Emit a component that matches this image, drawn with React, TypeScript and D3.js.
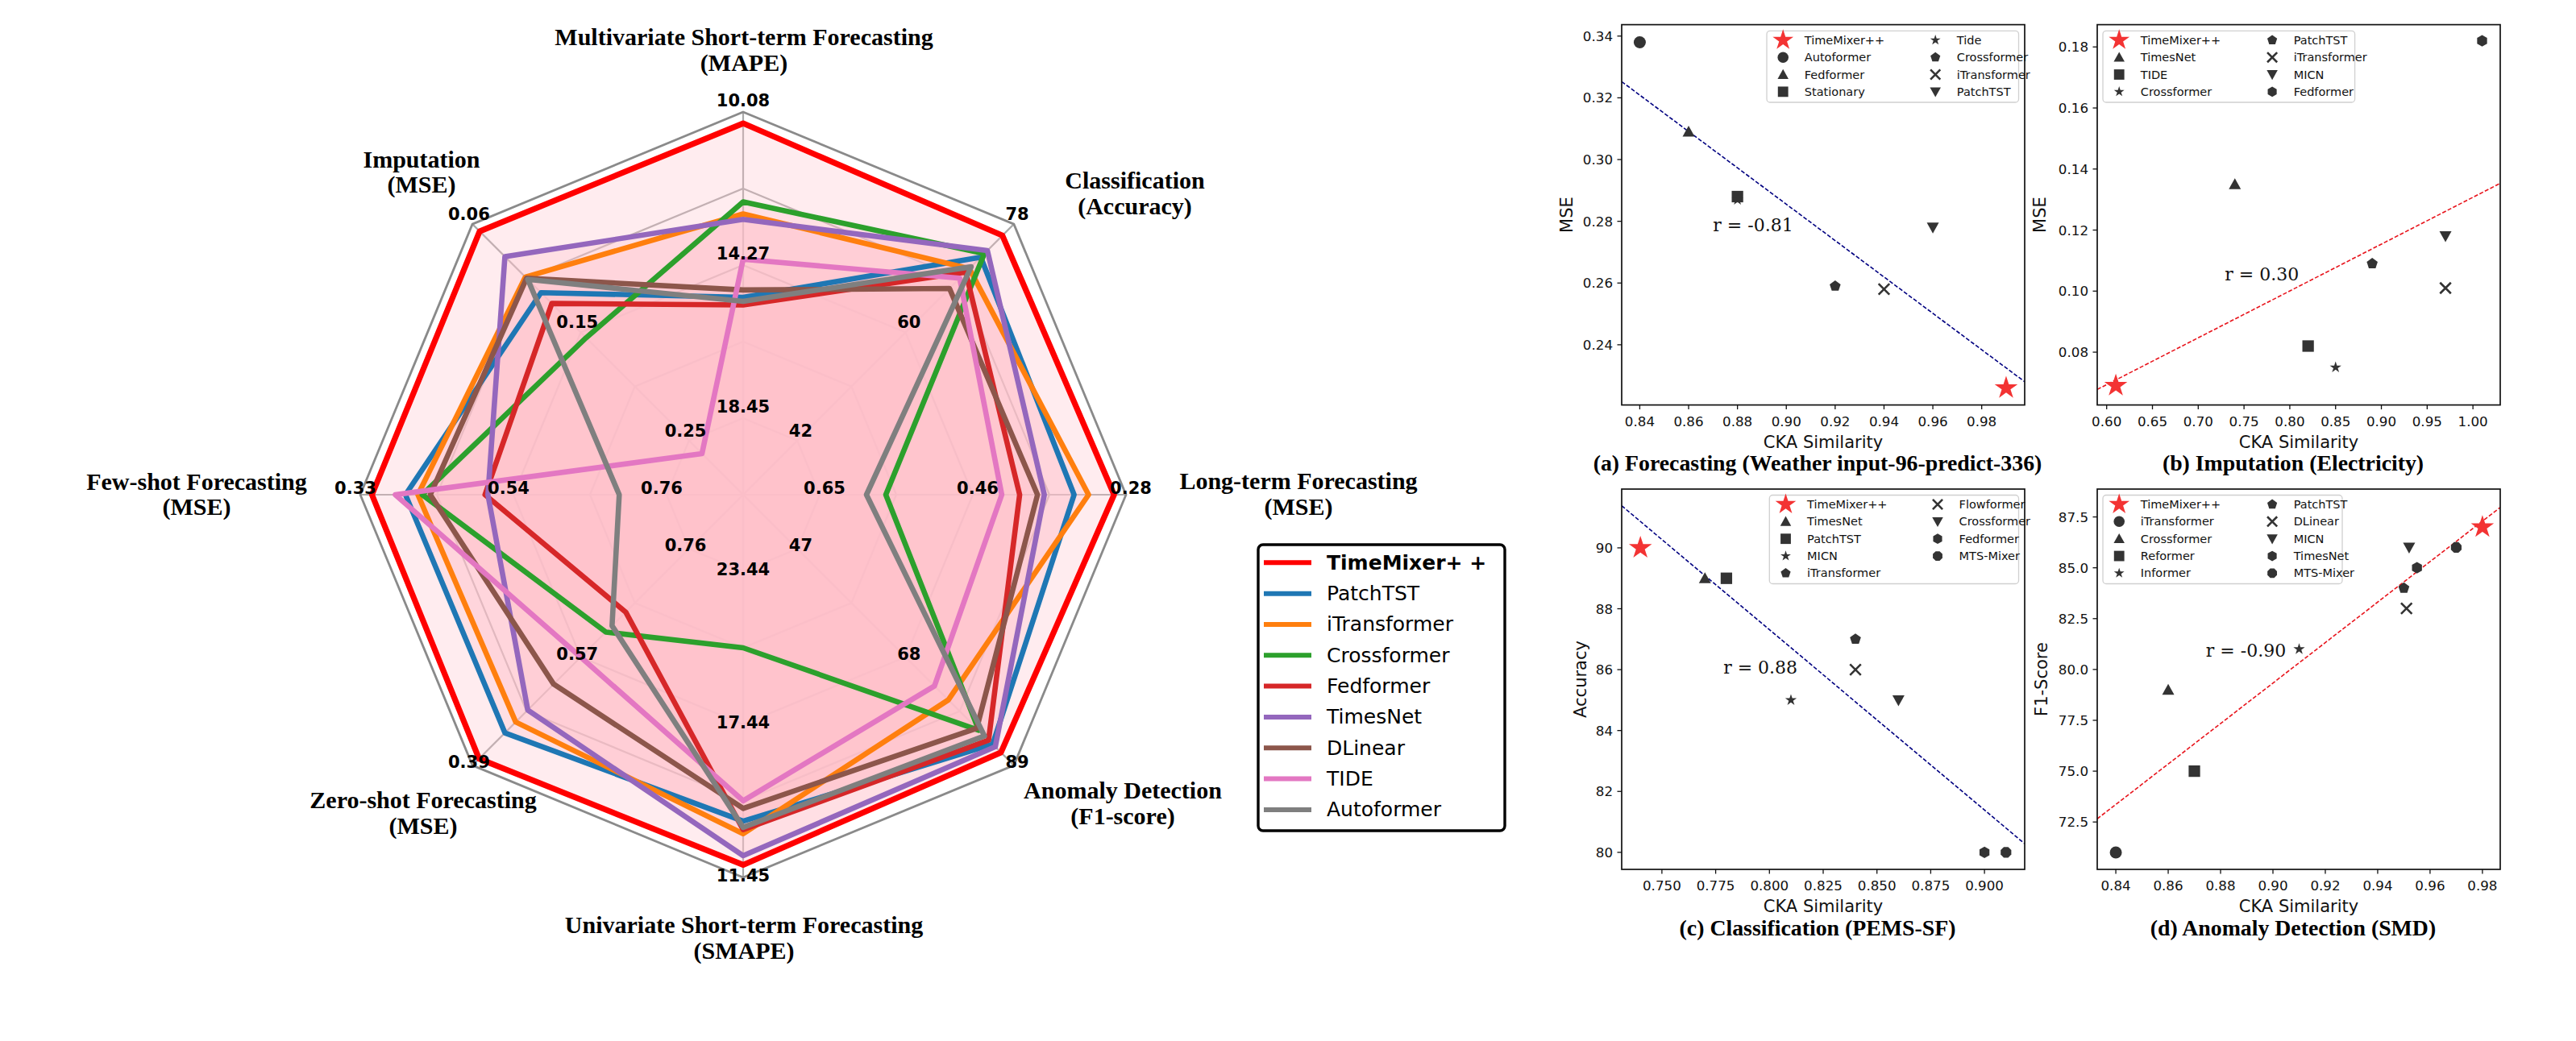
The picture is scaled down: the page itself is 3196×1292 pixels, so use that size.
import * as d3 from "d3";

const W = 3196;
const H = 1292;
const SANS = "'DejaVu Sans', 'Liberation Sans', sans-serif";
const SERIF = "'Liberation Serif', 'Times New Roman', serif";

// ---------------- radar data ----------------
const TASK_TITLES = [
  ["Multivariate Short-term Forecasting", "(MAPE)"],
  ["Classification", "(Accuracy)"],
  ["Long-term Forecasting", "(MSE)"],
  ["Anomaly Detection", "(F1-score)"],
  ["Univariate Short-term Forecasting", "(SMAPE)"],
  ["Zero-shot Forecasting", "(MSE)"],
  ["Few-shot Forecasting", "(MSE)"],
  ["Imputation", "(MSE)"],
];

// tick labels shown at radius 0.2, 0.6 and 1.0 on every task axis
const TICK_LABELS = [
  ["18.45", "14.27", "10.08"],
  ["42", "60", "78"],
  ["0.65", "0.46", "0.28"],
  ["47", "68", "89"],
  ["23.44", "17.44", "11.45"],
  ["0.76", "0.57", "0.39"],
  ["0.76", "0.54", "0.33"],
  ["0.25", "0.15", "0.06"],
];
const TICK_LEVELS = [0.2, 0.6, 1.0];
const GRID_LEVELS = [0.2, 0.4, 0.6, 0.8];

const MODEL_NAMES = [
  "TimeMixer+ +",
  "PatchTST",
  "iTransformer",
  "Crossformer",
  "Fedformer",
  "TimesNet",
  "DLinear",
  "TIDE",
  "Autoformer",
];
const MODEL_COLORS = [
  "#ff0000",
  "#1f77b4",
  "#ff7f0e",
  "#2ca02c",
  "#d62728",
  "#9467bd",
  "#8c564b",
  "#e377c2",
  "#7f7f7f",
];

// scores per task, same order as TASK_TITLES
const timeMixerScores = [10.39, 76.1, 0.294, 86.5, 11.94, 0.401, 0.346, 0.066];
const patchTSTScores = [15.15, 72.5, 0.341, 84.9, 13.65, 0.444, 0.392, 0.117];
const iTransformerScores = [12.87, 70.6, 0.324, 76.3, 13.16, 0.462, 0.409, 0.104];
const crossformerScores = [12.54, 73.1, 0.568, 82.2, 20.44, 0.614, 0.415, 0.155];
const fedformerScores = [15.36, 70.0, 0.405, 84.1, 13.32, 0.649, 0.501, 0.126];
const timesNetScores = [13.02, 73.6, 0.376, 85.4, 12.3, 0.482, 0.505, 0.087];
const dLinearScores = [14.95, 67.3, 0.384, 81.8, 14.15, 0.525, 0.426, 0.105];
const tideScores = [14.11, 69.0, 0.426, 73.6, 14.45, 0.57, 0.378, 0.262];
const autoformerScores = [15.26, 70.9, 0.592, 83.3, 13.41, 0.625, 0.692, 0.106];

const MODEL_SCORES = [
  timeMixerScores,
  patchTSTScores,
  iTransformerScores,
  crossformerScores,
  fedformerScores,
  timesNetScores,
  dLinearScores,
  tideScores,
  autoformerScores,
];

// ---------------- scatter data ----------------
// (a) forecasting
const fcNames = ["TimeMixer++", "Autoformer", "Fedformer", "Stationary", "Tide", "Crossformer", "iTransformer", "PatchTST"];
const fcMarkers = ["R", "o", "^", "s", "*", "p", "x", "v"];
const fcCka = [0.99, 0.84, 0.86, 0.88, 0.88, 0.92, 0.94, 0.96];
const fcMse = [0.226, 0.338, 0.309, 0.288, 0.287, 0.259, 0.258, 0.278];

// (b) imputation
const impNames = ["TimeMixer++", "TimesNet", "TIDE", "Crossformer", "PatchTST", "iTransformer", "MICN", "Fedformer"];
const impMarkers = ["R", "^", "s", "*", "p", "x", "v", "h"];
const impCka = [0.61, 0.74, 0.82, 0.85, 0.89, 0.97, 0.97, 1.01];
const impMse = [0.069, 0.135, 0.082, 0.075, 0.109, 0.101, 0.118, 0.182];

// (c) classification
const clsNames = ["TimeMixer++", "TimesNet", "PatchTST", "MICN", "iTransformer", "Flowformer", "Crossformer", "Fedformer", "MTS-Mixer"];
const clsMarkers = ["R", "^", "s", "*", "p", "x", "v", "h", "8"];
const clsCka = [0.74, 0.77, 0.78, 0.81, 0.84, 0.84, 0.86, 0.9, 0.91];
const clsAcc = [90, 89, 89, 85, 87, 86, 85, 80, 80];

// (d) anomaly detection
const adNames = ["TimeMixer++", "iTransformer", "Crossformer", "Reformer", "Informer", "PatchTST", "DLinear", "MICN", "TimesNet", "MTS-Mixer"];
const adMarkers = ["R", "o", "^", "s", "*", "p", "x", "v", "h", "8"];
const adCka = [0.98, 0.84, 0.86, 0.87, 0.91, 0.95, 0.951, 0.952, 0.955, 0.97];
const adF1 = [87, 71, 79, 75, 81, 84, 83, 86, 85, 86];

type Panel = {
  id: string;
  left: number;
  top: number;
  xDomain: [number, number];
  yDomain: [number, number];
  xTicks: number[];
  yTicks: number[];
  xFmt: (v: number) => string;
  yFmt: (v: number) => string;
  names: string[];
  markers: string[];
  xs: number[];
  ys: number[];
  fitColor: string;
  rLabel: string;
  rAt: [number, number];
  yLabel: string;
  yLabelX: number;
  caption: string;
  captionX: number;
  captionY: number;
  legend: { x: number; y: number; w: number; h: number; col2: number };
};

const PW = 500;
const PH = 472;
const f2 = (v: number) => v.toFixed(2);

const PANELS: Panel[] = [
  {
    id: "a",
    left: 2012,
    top: 30.6,
    xDomain: [0.8326, 0.9976],
    yDomain: [0.2205, 0.3437],
    xTicks: [0.84, 0.86, 0.88, 0.9, 0.92, 0.94, 0.96, 0.98],
    yTicks: [0.24, 0.26, 0.28, 0.3, 0.32, 0.34],
    xFmt: f2,
    yFmt: f2,
    names: fcNames,
    markers: fcMarkers,
    xs: fcCka,
    ys: fcMse,
    fitColor: "#000080",
    rLabel: "r = -0.81",
    rAt: [0.87, 0.2768],
    yLabel: "MSE",
    yLabelX: 1943,
    caption: "(a) Forecasting (Weather input-96-predict-336)",
    captionX: 2255,
    captionY: 574,
    legend: { x: 2192, y: 38.3, w: 312.5, h: 88.7, col2: 189.5 },
  },
  {
    id: "b",
    left: 2602,
    top: 30.6,
    xDomain: [0.5897, 1.0298],
    yDomain: [0.0627, 0.1873],
    xTicks: [0.6, 0.65, 0.7, 0.75, 0.8, 0.85, 0.9, 0.95, 1.0],
    yTicks: [0.08, 0.1, 0.12, 0.14, 0.16, 0.18],
    xFmt: f2,
    yFmt: f2,
    names: impNames,
    markers: impMarkers,
    xs: impCka,
    ys: impMse,
    fitColor: "#e8141c",
    rLabel: "r = 0.30",
    rAt: [0.729, 0.1035],
    yLabel: "MSE",
    yLabelX: 2530.5,
    caption: "(b) Imputation (Electricity)",
    captionX: 2845,
    captionY: 574,
    legend: { x: 2609, y: 38.3, w: 312.6, h: 88.7, col2: 190.4 },
  },
  {
    id: "c",
    left: 2012,
    top: 607,
    xDomain: [0.7313, 0.9187],
    yDomain: [79.44, 91.93],
    xTicks: [0.75, 0.775, 0.8, 0.825, 0.85, 0.875, 0.9],
    yTicks: [80, 82, 84, 86, 88, 90],
    xFmt: (v) => v.toFixed(3),
    yFmt: (v) => v.toFixed(0),
    names: clsNames,
    markers: clsMarkers,
    xs: clsCka,
    ys: clsAcc,
    fitColor: "#000080",
    rLabel: "r = 0.88",
    rAt: [0.7786, 85.88],
    yLabel: "Accuracy",
    yLabelX: 1960,
    caption: "(c) Classification (PEMS-SF)",
    captionX: 2255,
    captionY: 1151,
    legend: { x: 2195.3, y: 614.5, w: 309.2, h: 110, col2: 189 },
  },
  {
    id: "d",
    left: 2602,
    top: 607,
    xDomain: [0.8329, 0.9868],
    yDomain: [70.17, 88.87],
    xTicks: [0.84, 0.86, 0.88, 0.9, 0.92, 0.94, 0.96, 0.98],
    yTicks: [72.5, 75, 77.5, 80, 82.5, 85, 87.5],
    xFmt: f2,
    yFmt: (v) => v.toFixed(1),
    names: adNames,
    markers: adMarkers,
    xs: adCka,
    ys: adF1,
    fitColor: "#e8141c",
    rLabel: "r = -0.90",
    rAt: [0.8744, 80.63],
    yLabel: "F1-Score",
    yLabelX: 2532.6,
    caption: "(d) Anomaly Detection (SMD)",
    captionX: 2845,
    captionY: 1151,
    legend: { x: 2609, y: 614.5, w: 297, h: 110, col2: 190.4 },
  },
];

// matplotlib-like marker outlines, centred on (0,0)
function polygon(n: number, r: number, rot: number, inner = 0) {
  const count = inner ? n * 2 : n;
  const pts: string[] = [];
  for (let k = 0; k < count; k++) {
    const a = rot + (k * 2 * Math.PI) / count;
    const rr = inner && k % 2 === 1 ? r * inner : r;
    pts.push(`${(rr * Math.sin(a)).toFixed(2)},${(-rr * Math.cos(a)).toFixed(2)}`);
  }
  return "M" + pts.join("L") + "Z";
}

function markerPath(kind: string, s: number) {
  const r = s / 2;
  switch (kind) {
    case "o":
      return `M${r},0A${r},${r} 0 1,1 ${-r},0A${r},${r} 0 1,1 ${r},0Z`;
    case "s":
      return `M${-r * 0.95},${-r * 0.95}h${s * 0.95}v${s * 0.95}h${-s * 0.95}Z`;
    case "^":
      return `M0,${-r}L${r},${r * 0.8}L${-r},${r * 0.8}Z`;
    case "v":
      return `M0,${r}L${r},${-r * 0.8}L${-r},${-r * 0.8}Z`;
    case "x":
      return `M${-r * 0.9},${-r * 0.9}L${r * 0.9},${r * 0.9}M${-r * 0.9},${r * 0.9}L${r * 0.9},${-r * 0.9}`;
    case "p":
      return polygon(5, r * 0.95, 0);
    case "h":
      return polygon(6, r * 0.95, 0);
    case "8":
      return polygon(8, r * 0.95, Math.PI / 8);
    default:
      return polygon(5, r, 0, 0.381966);
  }
}

const Marker = ({ kind, x, y, scale = 1 }: { kind: string; x: number; y: number; scale?: number }) => {
  const ours = kind === "R";
  const d = ours ? markerPath("*", 30 * scale) : markerPath(kind, 15 * scale);
  const color = ours ? "#f33333" : "#333333";
  if (kind === "x") {
    return <path d={d} transform={`translate(${x},${y})`} fill="none" stroke={color} strokeWidth={2.6} />;
  }
  return <path d={d} transform={`translate(${x},${y})`} fill={color} />;
};

const Radar = () => {
  const cx = 922;
  const cy = 614;
  const R = 475;
  const n = TASK_TITLES.length;
  const step = (2 * Math.PI) / n;

  // one polylinear scale per task: metric value -> pixel radius
  const rScales = TICK_LABELS.map((t) =>
    d3.scaleLinear().domain(t.map(Number)).range(TICK_LEVELS.map((l) => l * R))
  );

  const ring = d3
    .lineRadial<number>()
    .angle((_, i) => i * step)
    .radius((d) => d)
    .curve(d3.curveLinearClosed);

  const modelLine = d3
    .lineRadial<number>()
    .angle((_, i) => i * step)
    .radius((v, i) => rScales[i](v))
    .curve(d3.curveLinearClosed);

  const titleOffsets = [
    [1, -553],
    [486, -375],
    [689, -2],
    [471, 382],
    [1, 549],
    [-397, 394],
    [-678, -1.5],
    [-399, -401.5],
  ];

  return (
    <g>
      <g transform={`translate(${cx},${cy})`}>
        {GRID_LEVELS.map((l) => (
          <path
            key={l}
            d={ring(d3.range(n).map(() => l * R)) ?? ""}
            fill="none"
            stroke="#a9a9a9"
            strokeWidth={2.2}
          />
        ))}
        {d3.range(n).map((i) => (
          <line
            key={i}
            x1={0}
            y1={0}
            x2={R * Math.sin(i * step)}
            y2={-R * Math.cos(i * step)}
            stroke="#a9a9a9"
            strokeWidth={2.2}
          />
        ))}
        <path
          d={ring(d3.range(n).map(() => R)) ?? ""}
          fill="none"
          stroke="#8a8a8a"
          strokeWidth={2.8}
        />
        {MODEL_SCORES.map((s, m) => (
          <path key={`f${m}`} d={modelLine(s) ?? ""} fill="#ffc0cb" fillOpacity={0.3} stroke="none" />
        ))}
        {MODEL_SCORES.map((s, m) => (
          <path
            key={`l${m}`}
            d={modelLine(s) ?? ""}
            fill="none"
            stroke={MODEL_COLORS[m]}
            strokeWidth={m === 0 ? 7.2 : 6.6}
            strokeLinejoin="round"
          />
        ))}
        {TICK_LABELS.map((labels, i) =>
          labels.map((lab, k) => {
            const r = TICK_LEVELS[k] * R + 6;
            const a = i * step;
            return (
              <text
                key={`${i}-${k}`}
                x={r * Math.sin(a)}
                y={-r * Math.cos(a) - 8}
                textAnchor="middle"
                dominantBaseline="central"
                fontFamily={SANS}
                fontWeight="bold"
                fontSize={21}
                fill="#000"
              >
                {lab}
              </text>
            );
          })
        )}
        {TASK_TITLES.map((lines, i) => (
          <text
            key={`t${i}`}
            textAnchor="middle"
            dominantBaseline="central"
            fontFamily={SERIF}
            fontWeight="bold"
            fontSize={30}
            fill="#000"
          >
            {lines.map((ln, j) => (
              <tspan key={j} x={titleOffsets[i][0]} y={titleOffsets[i][1] + (j === 0 ? -15.7 : 15.7)}>
                {ln}
              </tspan>
            ))}
          </text>
        ))}
      </g>

      {/* legend */}
      <rect x={1561} y={676} width={306} height={355} rx={6} fill="#fff" stroke="#000" strokeWidth={3.4} />
      {MODEL_NAMES.map((name, m) => {
        const y = 698.3 + m * 38.33;
        return (
          <g key={name}>
            <line x1={1568} x2={1627} y1={y} y2={y} stroke={MODEL_COLORS[m]} strokeWidth={6} />
            <text
              x={1646}
              y={y}
              dominantBaseline="central"
              fontFamily={SANS}
              fontSize={25}
              fontWeight={m === 0 ? "bold" : "normal"}
              fill="#000"
            >
              {name}
            </text>
          </g>
        );
      })}
    </g>
  );
};

const ScatterPanel = ({ p }: { p: Panel }) => {
  const x = d3.scaleLinear().domain(p.xDomain).range([p.left, p.left + PW]);
  const y = d3.scaleLinear().domain(p.yDomain).range([p.top + PH, p.top]);
  const bottom = p.top + PH;

  // least-squares fit through the points
  const mx = d3.mean(p.xs) ?? 0;
  const my = d3.mean(p.ys) ?? 0;
  const slope =
    d3.sum(p.xs, (v, i) => (v - mx) * (p.ys[i] - my)) / d3.sum(p.xs, (v) => (v - mx) * (v - mx));
  const icpt = my - slope * mx;
  const fitLine = d3
    .line<number>()
    .x((v) => x(v))
    .y((v) => y(slope * v + icpt));

  const rows = Math.ceil(p.names.length / 2);
  const lg = p.legend;

  return (
    <g>
      <defs>
        <clipPath id={`clip-${p.id}`}>
          <rect x={p.left} y={p.top} width={PW} height={PH} />
        </clipPath>
      </defs>

      <path
        d={fitLine(p.xDomain) ?? ""}
        fill="none"
        stroke={p.fitColor}
        strokeWidth={1.6}
        strokeDasharray="5,2.4"
        clipPath={`url(#clip-${p.id})`}
      />

      {p.xs.map((v, i) => (
        <Marker key={i} kind={p.markers[i]} x={x(v)} y={y(p.ys[i])} />
      ))}

      <text
        x={x(p.rAt[0])}
        y={y(p.rAt[1])}
        fontFamily="'DejaVu Serif', serif"
        fontSize={22}
        fill="#111"
      >
        {p.rLabel}
      </text>

      {/* legend */}
      <rect
        x={lg.x}
        y={lg.y}
        width={lg.w}
        height={lg.h}
        rx={4}
        fill="#fff"
        fillOpacity={0.8}
        stroke="#d0d0d0"
        strokeWidth={1.3}
      />
      {p.names.map((name, i) => {
        const col = i < rows ? 0 : 1;
        const row = col === 0 ? i : i - rows;
        const mxp = lg.x + 20.2 + col * (lg.col2 - 0.5);
        const ty = lg.y + 11.5 + row * 21.35;
        return (
          <g key={name + i}>
            <Marker kind={p.markers[i]} x={mxp} y={ty} scale={0.9} />
            <text
              x={mxp + 26.6}
              y={ty}
              dominantBaseline="central"
              fontFamily={SANS}
              fontSize={14.5}
              fill="#111"
            >
              {name}
            </text>
          </g>
        );
      })}

      {/* axes frame */}
      <rect x={p.left} y={p.top} width={PW} height={PH} fill="none" stroke="#111" strokeWidth={1.7} />

      {p.xTicks.map((t) => (
        <g key={`x${t}`}>
          <line x1={x(t)} x2={x(t)} y1={bottom} y2={bottom + 5.5} stroke="#111" strokeWidth={1.3} />
          <text x={x(t)} y={bottom + 26.4} textAnchor="middle" fontFamily={SANS} fontSize={16.7} fill="#111">
            {p.xFmt(t)}
          </text>
        </g>
      ))}
      {p.yTicks.map((t) => (
        <g key={`y${t}`}>
          <line x1={p.left - 5.5} x2={p.left} y1={y(t)} y2={y(t)} stroke="#111" strokeWidth={1.3} />
          <text
            x={p.left - 11}
            y={y(t)}
            dy="0.36em"
            textAnchor="end"
            fontFamily={SANS}
            fontSize={16.7}
            fill="#111"
          >
            {p.yFmt(t)}
          </text>
        </g>
      ))}

      <text
        x={p.left + PW / 2}
        y={bottom + 45.5}
        dy="0.36em"
        textAnchor="middle"
        fontFamily={SANS}
        fontSize={21}
        fill="#111"
      >
        CKA Similarity
      </text>
      <text
        transform={`translate(${p.yLabelX},${p.top + PH / 2}) rotate(-90)`}
        dy="0.36em"
        textAnchor="middle"
        fontFamily={SANS}
        fontSize={21}
        fill="#111"
      >
        {p.yLabel}
      </text>
      <text
        x={p.captionX}
        y={p.captionY}
        dominantBaseline="central"
        textAnchor="middle"
        fontFamily={SERIF}
        fontWeight="bold"
        fontSize={27.8}
        fill="#000"
      >
        {p.caption}
      </text>
    </g>
  );
};

export default function App() {
  return (
    <svg
      width={W}
      height={H}
      viewBox={`0 0 ${W} ${H}`}
      style={{ position: "absolute", left: 0, top: 0, background: "#fff" }}
    >
      <rect width={W} height={H} fill="#fff" />
      <Radar />
      {PANELS.map((p) => (
        <ScatterPanel key={p.id} p={p} />
      ))}
    </svg>
  );
}
